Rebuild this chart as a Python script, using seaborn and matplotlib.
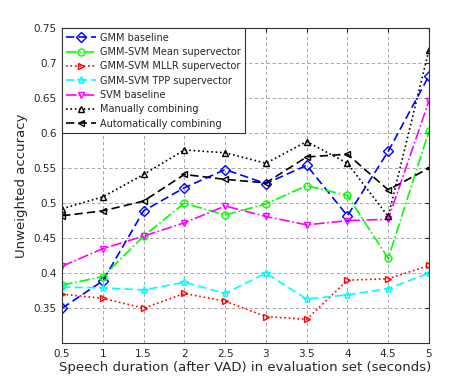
import pandas as pd
import numpy as np
import matplotlib.pyplot as plt
import seaborn as sns

sns.set_style("white")
plt.rcParams['font.family'] = ['DejaVu Sans']

# ---------------------------
# Data
# ---------------------------
durations = [0.5, 1, 1.5, 2, 2.5, 3, 3.5, 4, 4.5, 5]
gmm_baseline = [0.350, 0.389, 0.489, 0.522, 0.548, 0.528, 0.554, 0.482, 0.574, 0.682]
svm_mean = [0.383, 0.395, 0.453, 0.500, 0.483, 0.499, 0.525, 0.511, 0.421, 0.603]
svm_mllr = [0.370, 0.364, 0.350, 0.371, 0.360, 0.338, 0.334, 0.390, 0.392, 0.411]
svm_tpp = [0.380, 0.379, 0.376, 0.387, 0.371, 0.400, 0.363, 0.369, 0.378, 0.400]
svm_baseline = [0.410, 0.435, 0.453, 0.472, 0.496, 0.481, 0.469, 0.475, 0.477, 0.646]
manual_comb = [0.492, 0.509, 0.541, 0.576, 0.572, 0.557, 0.588, 0.557, 0.481, 0.719]
auto_comb = [0.482, 0.489, 0.503, 0.541, 0.534, 0.529, 0.566, 0.570, 0.519, 0.550]

series = [
    ("GMM baseline", gmm_baseline, "#0000ff", "D", (0, (5, 2.5))),
    ("GMM-SVM Mean supervector", svm_mean, "#00ff00", "o", "-."),
    ("GMM-SVM MLLR supervector", svm_mllr, "#ff0000", ">", ":"),
    ("GMM-SVM TPP supervector", svm_tpp, "#00ffff", "*", (0, (5, 2.5))),
    ("SVM baseline", svm_baseline, "#ff00ff", "v", "-."),
    ("Manually combining", manual_comb, "#000000", "^", ":"),
    ("Automatically combining", auto_comb, "#000000", "<", (0, (5, 2.5))),
]

fig = plt.figure(figsize=(4.74, 3.86), dpi=100)
ax = fig.add_axes([0.131, 0.111, 0.774, 0.816])

for name, vals, col, mk, ls in series:
    sns.lineplot(x=durations, y=vals, ax=ax, color=col, marker=mk, linestyle=ls,
                 linewidth=1.2, markersize=5 if mk != "*" else 6,
                 markerfacecolor="none", markeredgecolor=col, markeredgewidth=1.0,
                 label=name)

ax.set_xlim(0.5, 5)
ax.set_ylim(0.3, 0.75)
ax.set_xticks(durations)
ax.set_xticklabels(["0.5", "1", "1.5", "2", "2.5", "3", "3.5", "4", "4.5", "5"])
ax.set_yticks([0.35, 0.4, 0.45, 0.5, 0.55, 0.6, 0.65, 0.7, 0.75])
ax.set_yticklabels(["0.35", "0.4", "0.45", "0.5", "0.55", "0.6", "0.65", "0.7", "0.75"])
ax.tick_params(direction="in", labelsize=7.5, length=3, top=True, right=True, pad=4)
ax.grid(True, linestyle=(0, (4, 3)), color="#999999", linewidth=0.6)
for sp in ax.spines.values():
    sp.set_color("#333333")
    sp.set_linewidth(0.8)

ax.set_xlabel("Speech duration (after VAD) in evaluation set (seconds)", fontsize=9.5, labelpad=2)
ax.set_ylabel("Unweighted accuracy", fontsize=9.5, labelpad=4)

leg = ax.legend(loc="upper left", fontsize=7, frameon=True, fancybox=False,
                edgecolor="#333333", framealpha=1, borderaxespad=0,
                handlelength=3.0, labelspacing=0.45, borderpad=0.45, handletextpad=0.4)
leg.get_frame().set_linewidth(0.8)

plt.savefig("out.png", dpi=100)
